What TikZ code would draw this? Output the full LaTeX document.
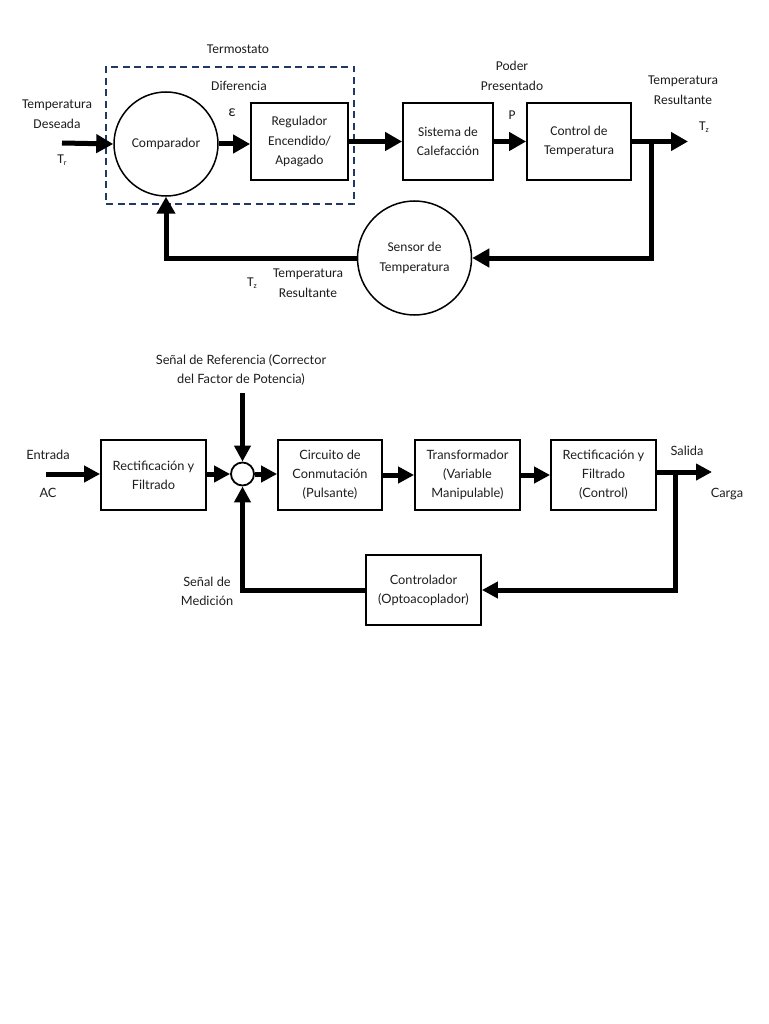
\documentclass[tikz,border=0pt]{standalone}
\usepackage{fontspec}
\setmainfont{Carlito}
\newfontfamily\latofont{Lato}
\usetikzlibrary{arrows.meta}
\definecolor{txt}{RGB}{30,30,30}
\definecolor{dashblue}{RGB}{31,56,100}
\newcommand\subtx[1]{\raisebox{-2pt}{\fontsize{8}{8}\selectfont #1}}
\begin{document}
\begin{tikzpicture}[x=1pt,y=-1pt,
  every node/.style={text=txt},
  lbl/.style={align=center,inner sep=0pt,font=\fontsize{13.5}{19.5}\selectfont},
  lblb/.style={align=center,inner sep=0pt,font=\latofont\fontsize{12.8}{19}\selectfont},
  box/.style={draw=black,line width=1.8pt,align=center,inner sep=0pt,font=\fontsize{13.5}{19.5}\selectfont},
  boxb/.style={draw=black,line width=1.8pt,align=center,inner sep=0pt,font=\latofont\fontsize{12.8}{19}\selectfont,minimum width=105pt,minimum height=70pt},
  circ/.style={draw=black,circle,line width=1.5pt,inner sep=0pt,align=center,font=\fontsize{13.5}{19.5}\selectfont},
  dashbox/.style={draw=dashblue,line width=1.5pt,dash pattern=on 7pt off 4.5pt,inner sep=0pt},
  fat/.style={line width=5pt,line join=miter,-{Triangle[length=17pt,width=18pt]}},
  fatb/.style={line width=5pt,line join=miter,-{Triangle[length=16pt,width=16pt]}}
]
\useasboundingbox (0,0) rectangle (768,1024);
\fill[white] (0,0) rectangle (768,1024);

% ---------- top diagram ----------
\node[dashbox,minimum width=248pt,minimum height=137pt] (termo) at (230,135.5) {};
\node[circ,minimum size=104pt] (comp) at (166,144) {Comparador};
\node[box,minimum width=97pt,minimum height=77pt] (reg) at (299.5,141.5) {Regulador\\Encendido/\\Apagado};
\node[box,minimum width=90pt,minimum height=77pt] (sis) at (448,141.5) {Sistema de\\Calefacción};
\node[box,minimum width=104pt,minimum height=77pt] (ctl) at (579,141.5) {Control de\\Temperatura};
\node[circ,minimum size=114pt] (sens) at (414.5,258) {Sensor de\\Temperatura};

\coordinate (inT) at (62,143);
\coordinate (outT) at (688,141.5);
\coordinate (brT) at (651,141.5);

\draw[fat] (inT) -- (comp.west);
\draw[fat] (comp.east) -- (comp.east -| reg.west);
\draw[fat] (reg.east) -- (sis.west);
\draw[fat] (sis.east) -- (ctl.west);
\draw[fat] (ctl.east) -- (outT);
\draw[fat] (brT) |- (sens.east);
\draw[fat] (sens.west) -| (comp.south);

\node[lbl] (ttermo) at (238,49) {Termostato};
\node[lbl] (tdif) at (239,86) {Diferencia};
\node[lbl,font=\fontsize{16}{16}\selectfont] (teps) at (232,113) {ε};
\node[lbl] (tdes) at (57,114) {Temperatura\\Deseada};
\node[lbl] (ttr) at (62,160) {T\subtx{r}};
\node[lbl] (tpod) at (512,76) {Poder\\Presentado};
\node[lbl] (tp) at (512,115) {P};
\node[lbl] (tres1) at (683,90) {Temperatura\\Resultante};
\node[lbl] (ttz1) at (704,127) {T\subtx{z}};
\node[lbl] (ttz2) at (252,283) {T\subtx{z}};
\node[lbl] (tres2) at (308,283) {Temperatura\\Resultante};

% ---------- bottom diagram ----------
\node[boxb] (rec1) at (153.5,475) {Rectificación y\\Filtrado};
\node[circle,draw=black,line width=1.8pt,minimum size=23pt,inner sep=0pt] (sum) at (242.5,474) {};
\node[boxb,minimum width=104pt] (conm) at (330,475) {Circuito de\\Conmutación\\(Pulsante)};
\node[boxb] (trans) at (467.5,475) {Transformador\\(Variable\\Manipulable)};
\node[boxb] (rec2) at (603.5,475) {Rectificación y\\Filtrado\\(Control)};
\node[boxb,minimum width=115pt] (ctrl) at (423.5,590) {Controlador\\(Optoacoplador)};

\coordinate (inB) at (46,474);
\coordinate (refB) at (242.5,393);
\coordinate (outB) at (712,472);
\coordinate (brB) at (675,472);

\draw[fatb] (inB) -- (inB -| rec1.west);
\draw[fatb] (rec1.east |- sum.west) -- (sum.west);
\draw[fatb] (refB) -- (sum.north);
\draw[fatb] (sum.east) -- (sum.east -| conm.west);
\draw[fatb] (conm.east) -- (trans.west);
\draw[fatb] (trans.east) -- (rec2.west);
\draw[fatb] (rec2.east |- outB) -- (outB);
\draw[fatb] (brB) |- (ctrl.east);
\draw[fatb] (ctrl.west) -| (sum.south);

\node[lblb] (tref) at (241,370) {Señal de Referencia (Corrector\\del Factor de Potencia)};
\node[lblb] (tent) at (48,455) {Entrada};
\node[lblb] (tac) at (48,493) {AC};
\node[lblb] (tsal) at (687,451) {Salida};
\node[lblb] (tcar) at (727,494) {Carga};
\node[lblb] (tmed) at (207,591) {Señal de\\Medición};
\end{tikzpicture}
\end{document}
